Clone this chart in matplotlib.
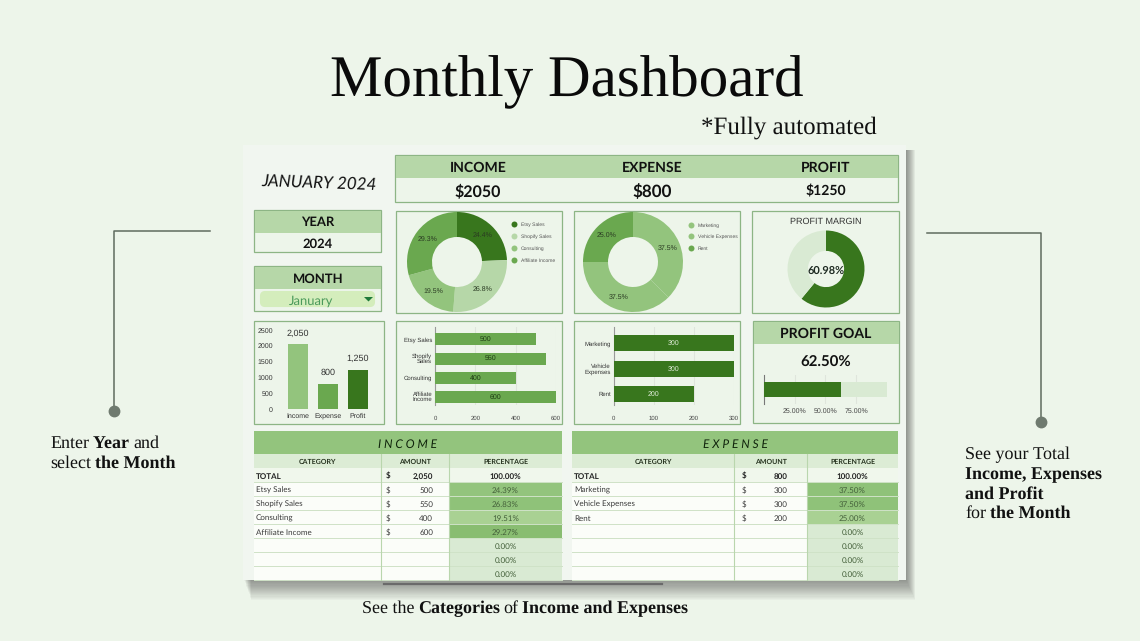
import math

import matplotlib
matplotlib.use("Agg")
import matplotlib.pyplot as plt
from matplotlib.patches import Rectangle, FancyBboxPatch, Polygon

plt.rcParams["text.hinting"] = "no_hinting"
plt.rcParams["text.hinting_factor"] = 1

W, H = 1140, 641

# values
kpi_names = ["INCOME", "EXPENSE", "PROFIT"]
kpi_values = ["$2050", "$800", "$1250"]
income_cats = ["Etsy Sales", "Shopify Sales", "Consulting", "Affiliate Income"]
income_vals = [500, 550, 400, 600]
income_pcts = ["24.39%", "26.83%", "19.51%", "29.27%", "0.00%", "0.00%", "0.00%"]
income_pie_pct = [24.4, 26.8, 19.5, 29.3]
expense_cats = ["Marketing", "Vehicle Expenses", "Rent"]
expense_vals = [300, 300, 200]
expense_pcts = ["37.50%", "37.50%", "25.00%", "0.00%", "0.00%", "0.00%", "0.00%"]
expense_pie_pct = [37.5, 37.5, 25.0]
summary_names = ["Income", "Expense", "Profit"]
summary_vals = [2050, 800, 1250]
margin_vals = [60.98, 39.02]
goal_val = 62.5
goal_rest = 37.5

DARK = "#38761d"
MID = "#6aa84f"
SOFT = "#93c47d"
LIGHT = "#b6d7a8"
PALE = "#d9ead3"
EDGE = "#8db585"
BODY = "#edf5ea"
BG = "#edf5ea"
SHEET = "#f1f6f0"
UI = "Lato"
SANS = "Liberation Sans"
SERIF = "Liberation Serif"

fig = plt.figure(figsize=(W / 100, H / 100), dpi=100, facecolor=BG)
base = fig.add_axes([0, 0, 1, 1])
base.set_xlim(0, W)
base.set_ylim(H, 0)
base.axis("off")


def inset(x0, y0, x1, y1):
    ax = fig.add_axes([x0 / W, 1 - y1 / H, (x1 - x0) / W, (y1 - y0) / H])
    ax.patch.set_alpha(0)
    return ax


def box(x0, y0, x1, y1, fc=BODY, ec=EDGE, lw=0.9, z=2):
    r = Rectangle((x0, y0), x1 - x0, y1 - y0, fc=fc, ec=ec, lw=lw, zorder=z)
    base.add_patch(r)
    return r


def label(x, y, s, size=8, weight="normal", color="#111111", ha="center", family=UI, **kw):
    return base.text(x, y, s, fontsize=size, fontweight=weight, color=color, ha=ha,
                     va="center_baseline", family=family, zorder=6, **kw)


def runs(x, y, parts, size=12.7):
    # serif captions mix bold and regular inside one line
    rend = fig.canvas.get_renderer()
    for s, weight in parts:
        t = label(x, y, s, size=size, weight=weight, ha="left", family=SERIF)
        x += t.get_window_extent(rend).width + 3.6


def clean(ax):
    for s in ax.spines.values():
        s.set_visible(False)
    ax.tick_params(length=0)


def donut(cx, cy, r, vals, colors, width, texts=None):
    ax = inset(cx - r, cy - r, cx + r, cy + r)
    pie = ax.pie(vals, colors=colors, startangle=90, counterclock=False, radius=1,
                 wedgeprops={"width": width})
    ax.set_xlim(-1, 1)
    ax.set_ylim(-1, 1)
    if texts:
        for w, s in zip(pie[0], texts):
            a = math.radians((w.theta1 + w.theta2) / 2)
            ax.text(0.75 * math.cos(a), 0.75 * math.sin(a), f"{s:.1f}%", fontsize=5,
                    ha="center", va="center", color="#2a3a22", family=SANS)
    return ax


def legend_rows(x, ys, names, colors, clip=None):
    for y, n, c in zip(ys, names, colors):
        base.plot([x], [y], "o", ms=4.3, color=c, mec="none", zorder=5)
        t = label(x + 7, y, n, size=3.85, color="#555555", ha="left", family=SANS)
        if clip is not None:
            t.set_clip_path(clip)


def hbars(x0, x1, y0, y1, names, vals, color, xmax, ticks, txt):
    ax = inset(x0, y0, x1, y1)
    pos = range(len(vals))
    bars = ax.barh(list(pos), vals, height=0.63, color=color, zorder=3)
    ax.set_yticks(list(pos))
    ax.set_yticklabels(names, fontsize=4.4, color="#333333", family=SANS, linespacing=0.9)
    ax.set_xlim(0, xmax)
    ax.set_ylim(len(vals) - 1 + 0.43, -0.65)
    ax.set_xticks(ticks)
    ax.set_xticklabels(ticks, fontsize=4.4, color="#444444", family=SANS)
    ax.grid(axis="x", color="#dfe5dc", lw=0.8, zorder=0)
    clean(ax)
    ax.spines["left"].set_visible(True)
    ax.spines["left"].set_color("#999999")
    ax.tick_params(axis="y", pad=2)
    ax.tick_params(axis="x", pad=7.5)
    ax.bar_label(bars, label_type="center", fontsize=5, color=txt, family=SANS)
    return ax


def table(x0, xa, xp, x1, title, names, vals, total, pcts, colors, dollar_x, right_x):
    base.add_patch(Rectangle((x0, 431), x1 - x0, 23, fc=SOFT, ec="none", zorder=3))
    label((x0 + x1) / 2, 443, title, size=8.5, style="italic", color="#10240c")
    base.add_patch(Rectangle((x0, 454), x1 - x0, 14, fc="#dcecd5", ec="none", zorder=3))
    for xa0, xa1, s in [(x0, xa, "CATEGORY"), (xa, xp, "AMOUNT"), (xp, x1, "PERCENTAGE")]:
        label((xa0 + xa1) / 2, 461.5, s, size=5.4, weight="bold", color="#26331f")
    # rows
    base.add_patch(Rectangle((x0, 468), x1 - x0, 14, fc="#f0f7ec", ec="none", zorder=3))
    base.add_patch(Rectangle((x0, 482), xp - x0, 98, fc="#fbfdf9", ec="none", zorder=3))
    label(x0 + 2, 475.5, "TOTAL", size=5.6, weight="bold", ha="left", color="#222222")
    label(dollar_x, 475.5, "$", size=5.6, weight="bold", color="#222222")
    label(right_x, 475.5, f"{total:,}", size=5.8, weight="bold", ha="right", color="#222222")
    label((xp + x1) / 2, 475.5, "100.00%", size=5.8, weight="bold", color="#222222")
    for i, (p, c) in enumerate(zip(pcts, colors)):
        y = 482 + 14 * i
        base.add_patch(Rectangle((xp, y), x1 - xp, 14, fc=c, ec="none", zorder=3))
        label((xp + x1) / 2, y + 7.5, p, size=5.6, color="#44603a")
    for i, (n, v) in enumerate(zip(names, vals)):
        y = 489.5 + 14 * i
        label(x0 + 2, y, n, size=5.8, ha="left", color="#3b3b3b")
        label(dollar_x, y, "$", size=5.6, color="#3b3b3b")
        label(right_x, y, f"{v:,}", size=5.8, ha="right", color="#3b3b3b")
    for k in range(8):
        y = 468 + 14 * (k + 1)
        base.plot([x0, x1], [y, y], color="#cfe2c7", lw=0.7, zorder=4)
    for x in (xa, xp):
        base.plot([x, x], [454, 580], color="#b9d6ad", lw=0.8, zorder=4)


# title block
label(567, 76, "Monthly Dashboard", size=42.8, family=SERIF, color="#0a0a0a")
label(789, 125, "*Fully automated", size=18, family=SERIF, color="#111111")

# sheet and its drop shadow
for k in range(18, 0, -1):
    base.add_patch(Rectangle((244 + k * 0.4, 150), 662 + k * 0.1, 430 + k * 1.1,
                             fc="#303030", ec="none", alpha=0.03, zorder=1))
base.add_patch(Rectangle((243, 145), 663, 435, fc=SHEET, ec="none", zorder=1.5))
base.plot([384, 662], [584, 584], color="#6a6a6a", lw=1.6, zorder=2)

# connectors
base.plot([210, 114, 114], [231, 231, 411], color="#5f6b5f", lw=1.1, zorder=1)
base.plot([114], [411], "o", ms=7.5, color="#6f7a6f", zorder=2)
base.plot([927, 1041, 1041], [233, 233, 422], color="#5f6b5f", lw=1.1, zorder=1)
base.plot([1041], [422], "o", ms=7.5, color="#6f7a6f", zorder=2)

# side captions
runs(50, 442, [("Enter", "normal"), ("Year", "bold"), ("and", "normal")])
runs(50, 462, [("select", "normal"), ("the Month", "bold")])
runs(965, 453, [("See your Total", "normal")])
runs(965, 473, [("Income, Expenses", "bold")])
runs(965, 493, [("and Profit", "bold")])
runs(965, 512, [("for", "normal"), ("the Month", "bold")])
runs(362, 607, [("See the", "normal"), ("Categories", "bold"), ("of", "normal"),
                ("Income and Expenses", "bold")])

label(319, 180, "JANUARY 2024", size=12, style="italic", family="Lato", color="#111111",
      rotation=-2)

# KPI strip
box(395, 155, 898, 202)
base.add_patch(Rectangle((395.5, 155.5), 502, 22.5, fc=LIGHT, ec="none", zorder=3))
for x, n, v, s in zip([478, 652, 826], kpi_names, kpi_values, [11.8, 12, 9.8]):
    label(x, 167, n, size=10, weight="bold")
    label(x, 190, v, size=s, weight="bold")

# year and month selectors
box(254, 210, 381, 252)
base.add_patch(Rectangle((254.5, 210.5), 126, 22, fc=LIGHT, ec="none", zorder=3))
label(318, 221, "YEAR", size=9.5, weight="bold")
label(318, 243, "2024", size=9.5, weight="bold")
box(254, 266, 381, 311)
base.add_patch(Rectangle((254.5, 266.5), 126, 22, fc=LIGHT, ec="none", zorder=3))
label(318, 278, "MONTH", size=9, weight="bold")
base.add_patch(FancyBboxPatch((261, 292), 113, 14, boxstyle="round,pad=0,rounding_size=4",
                              fc="#d4edbc", ec="#d4edbc", lw=1.5, zorder=3))
label(311, 300, "January", size=9, color="#4b9a5b")
base.add_patch(Polygon([(364, 297), (373, 297), (368.5, 301.5)], fc="#1f7a3a", ec="none", zorder=5))

# chart panels
for x0, y0, x1, y1 in [(396, 211, 562, 313), (574, 211, 740, 313), (752, 211, 899, 313),
                       (254, 321, 384, 424), (396, 321, 562, 424), (574, 321, 740, 424),
                       (753, 321, 899, 423)]:
    box(x0, y0, x1, y1)

income_colors = [DARK, LIGHT, SOFT, MID]
donut(457, 262, 50, income_vals, income_colors, 0.5, income_pie_pct)
legend_rows(514, [224, 236, 248, 260], income_cats, income_colors)

expense_colors = [SOFT, SOFT, MID]
donut(633, 262, 50, expense_vals, expense_colors, 0.5, expense_pie_pct)
clip_rect = Rectangle((574, 211), 166, 102, transform=base.transData, fc="none", ec="none")
base.add_patch(clip_rect)
legend_rows(691, [225, 236, 248], expense_cats, expense_colors, clip=clip_rect)

label(826, 221, "PROFIT MARGIN", size=6.3, color="#333333", family=SANS)
donut(826, 269, 38.5, margin_vals, [DARK, PALE], 0.53)
label(826, 269.5, "60.98%", size=7.6, weight="bold", color="#1e2a22")

# column chart
ax = inset(282.7, 330, 372.7, 409)
bars = ax.bar(summary_names, summary_vals, width=0.66, color=[SOFT, MID, DARK])
ax.set_ylim(0, 2500)
ax.set_xlim(-0.5, 2.5)
ax.set_yticks(range(0, 2501, 500))
ax.tick_params(axis="y", labelsize=5, labelcolor="#333333", pad=7)
ax.tick_params(axis="x", labelsize=5.2, labelcolor="#333333", pad=3)
for t in ax.get_xticklabels() + ax.get_yticklabels():
    t.set_family(SANS)
clean(ax)
ax.bar_label(bars, labels=[f"{v:,}" for v in summary_vals], padding=5, fontsize=6.3,
             color="#333333", family=SANS, clip_on=False)

hbars(435, 556, 327, 405, ["Etsy Sales", "Shopify\nSales", "Consulting", "Affiliate\nIncome"],
      income_vals, MID, 600, [0, 200, 400, 600], "#1c3a12")
hbars(613.7, 734, 327, 405, ["Marketing", "Vehicle\nExpenses", "Rent"],
      expense_vals, DARK, 300, [0, 100, 200, 300], "#e6f0df")

# profit goal
base.add_patch(Rectangle((753.5, 321.5), 145, 22.5, fc=LIGHT, ec="none", zorder=3))
label(826, 333, "PROFIT GOAL", size=10.2, weight="bold")
label(826, 361, "62.50%", size=10.5, weight="bold")
ax = inset(763.7, 375, 887, 404)
ax.barh([0], [goal_val], height=0.5, color=DARK, zorder=3)
ax.barh([0], [goal_rest], left=[goal_val], height=0.5, color=PALE, zorder=2)
ax.set_xlim(0, 100)
ax.set_ylim(-0.5, 0.5)
ax.set_yticks([])
ax.set_xticks([25, 50, 75])
ax.set_xticklabels(["25.00%", "50.00%", "75.00%"], fontsize=4.8, color="#444444", family=SANS)
ax.grid(axis="x", color="#dfe5dc", lw=0.8, zorder=0)
clean(ax)
ax.spines["left"].set_visible(True)
ax.spines["left"].set_color("#777777")
ax.tick_params(axis="x", pad=3)

# tables
income_shades = ["#93c47d", "#8fc279", "#a9d193", "#89bd71", PALE, PALE, PALE]
expense_shades = ["#8fc279", "#8fc279", "#a9d193", PALE, PALE, PALE, PALE]
table(254, 381, 449, 562, "I N C O M E", income_cats, income_vals, sum(income_vals),
      income_pcts, income_shades, 388, 433)
table(572, 734, 807, 898, "E X P E N S E", expense_cats, expense_vals, sum(expense_vals),
      expense_pcts, expense_shades, 744, 788)

fig.savefig("out.png", dpi=100, facecolor=BG)
